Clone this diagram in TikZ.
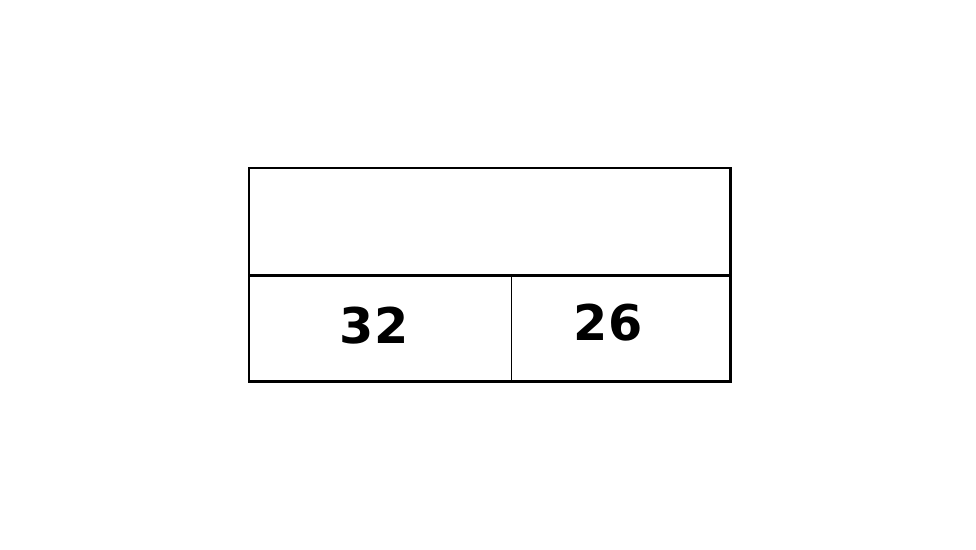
\documentclass[tikz,border=0pt]{standalone}
\usepackage{fontspec}
\setmainfont{DejaVu Sans}
\usetikzlibrary{positioning}
\tikzstyle{cell} = [draw, line width=1pt, inner sep=0pt, anchor=north west]
\tikzstyle{frame} = [draw, line width=2pt]
\tikzstyle{num} = [font=\bfseries\fontsize{35}{38}\selectfont, inner sep=0pt]

\begin{document}
\begin{tikzpicture}[x=0.025cm, y=-0.025cm]
\useasboundingbox (0,0) rectangle (976,549);
% cells of the bar
\node[cell, minimum width=12cm, minimum height=2.65cm] (whole) at (249,168) {};
\node[cell, minimum width=6.55cm, minimum height=2.65cm] (left) at (249,274) {};
\node[cell, minimum width=5.45cm, minimum height=2.65cm] (right) at (511,274) {};

% thick outline
\draw[frame] (whole.north west) rectangle (right.south east);
\draw[frame] (whole.south west) -- (whole.south east);

% numbers
\node[num] (n32) at (374,326) {32};
\node[num] (n26) at (608,323) {26};
\end{tikzpicture}
\end{document}
